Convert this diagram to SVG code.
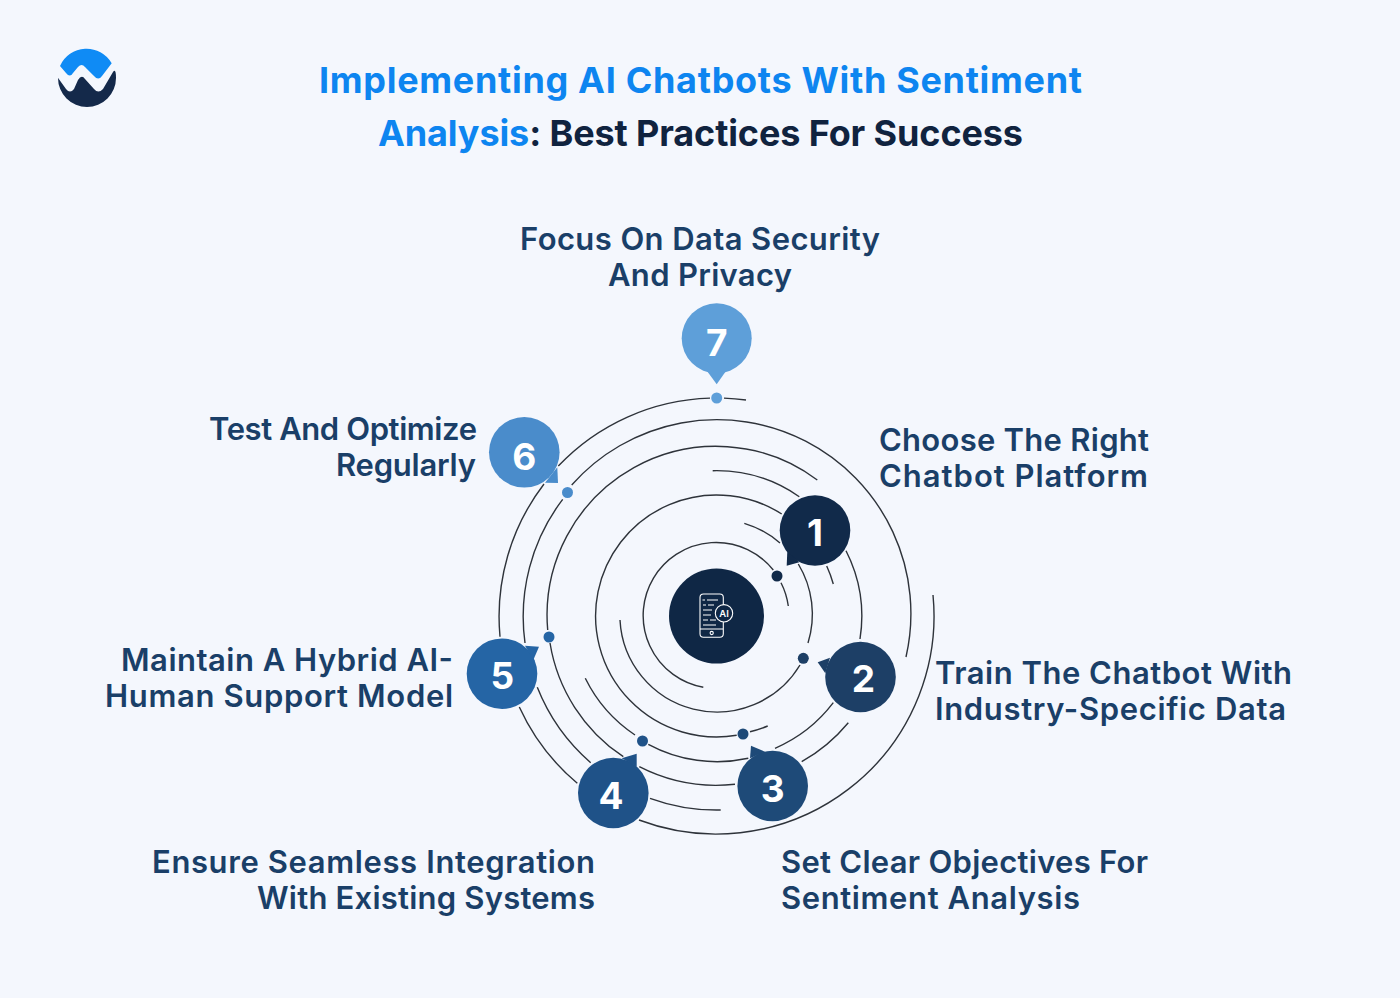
<svg xmlns="http://www.w3.org/2000/svg" width="1400" height="998" viewBox="0 0 1400 998">
<style>
text{font-family:Inter,"Liberation Sans",sans-serif}
.t{font-size:36px;font-weight:700}
.bl{fill:#0d85f0}
.dk{fill:#10233f}
.l{font-size:31px;font-weight:600;fill:#1a3f68}
.n{font-size:37px;font-weight:700;fill:#fff;text-anchor:middle}
.r{fill:none;stroke:#2e333a;stroke-width:1.4;stroke-linecap:butt}
.ic{fill:none;stroke:#fff;stroke-width:1.1}
</style>
<rect width="1400" height="998" fill="#f4f7fd"/>
<g id="logo">
<path d="M60 66A29 29 0 0 1 111.700 63.300L102 76Q98.300 81 94 76L85 67Q81.700 63 78 67L73 73Q70 78 66 73Z" fill="#0f8bf5"/>
<path d="M58.300 78.300L66 89Q70 94 74 89L78 80Q81.700 74 85 79L94 89Q98.300 94 103 89L113 72Q116 68 116 78A29 29 0 0 1 58 78Z" fill="#14294a"/>
</g>
<g id="title">
<text class="t bl" x="319" y="93" textLength="763">Implementing AI Chatbots With Sentiment</text>
<text class="t" x="378" y="146" textLength="645"><tspan class="bl">Analysis</tspan><tspan class="dk">: Best Practices For Success</tspan></text>
</g>
<g id="connectors">
<path class="r" d="M558.300 466A218 218 0 0 1 710 398.100"/>
<path class="r" d="M724 398.100A218 218 0 0 1 746 400"/>
<path class="r" d="M500 636.700A218 218 0 0 1 544 484"/>
<path class="r" d="M577.300 783.300A218 218 0 0 1 519.300 707"/>
<path class="r" d="M933 595A218 218 0 0 1 639 820"/>
<path class="r" d="M571.700 485A194 194 0 0 1 906 657"/>
<path class="r" d="M525 643A194 194 0 0 1 562.700 499.300"/>
<path class="r" d="M590.700 762.700A194 194 0 0 1 537.300 687.300"/>
<path class="r" d="M720.700 810A194 194 0 0 1 650 798.300"/>
<path class="r" d="M547.700 630A169 169 0 0 1 817.300 480"/>
<path class="r" d="M623.300 756.700A169 169 0 0 1 550 643"/>
<path class="r" d="M735 784.300A169 169 0 0 1 639.300 766.700"/>
<path class="r" d="M848.300 722.700A169 169 0 0 1 801.700 761.700"/>
<path class="r" d="M712.700 470.700A145 145 0 0 1 799.300 496.700"/>
<path class="r" d="M846 550.700A145 145 0 0 1 860 639"/>
<path class="r" d="M833.300 702.700A145 145 0 0 1 775 748.300"/>
<path class="r" d="M748.300 758.300A145 145 0 0 1 648.300 744.300"/>
<path class="r" d="M635 735A145 145 0 0 1 585.300 678.300"/>
<path class="r" d="M736.700 735.300A121 121 0 1 1 781.700 514"/>
<path class="r" d="M767.700 726A121 121 0 0 1 750 731.700"/>
<path class="r" d="M826.700 566A121 121 0 0 1 833.300 584"/>
<path class="r" d="M744.300 523.300A97 97 0 0 1 780 543"/>
<path class="r" d="M798.300 564A97 97 0 0 1 808 643"/>
<path class="r" d="M800 665A97 97 0 0 1 620 620"/>
<path class="r" d="M703.300 687.300A73 73 0 1 1 773.300 570"/>
<path class="r" d="M781 582.700A73 73 0 0 1 788.300 606"/>
</g>
<g id="center">
<circle cx="716.500" cy="616" r="47.500" fill="#0f2745"/>
<rect class="ic" x="700" y="594" width="23.300" height="43.300" rx="3.500"/>
<path class="ic" d="M700 629H723M702.500 600H705M707 600H718M703 605H706M708 605H714M703 610H712M703 615H711M703 620H708M710 620H716M703 625H716"/>
<circle class="ic" cx="711.700" cy="633" r="1.600"/>
<circle cx="724" cy="613.300" r="8.700" fill="#0f2745" stroke="#fff" stroke-width="1.100"/>
<text x="724" y="616.800" font-size="9.500" font-weight="600" fill="#fff" text-anchor="middle">AI</text>
</g>
<g id="node1" fill="#112a4a">
<circle cx="815" cy="530.500" r="35.300"/>
<path d="M786.700 565.700L787.300 551.700L799.300 562.300Z"/>
<circle cx="777" cy="576" r="5.500"/>
<text class="n" x="815" y="546">1</text>
<text class="l" x="879" y="451" textLength="270">Choose The Right</text>
<text class="l" x="879" y="487" textLength="269">Chatbot Platform</text>
</g>
<g id="node2" fill="#1d3f66">
<circle cx="860.500" cy="677" r="35.300"/>
<path d="M817.700 662.300L830 657.700L825.300 673.300Z"/>
<circle cx="803.300" cy="658.300" r="5.500"/>
<text class="n" x="863.300" y="692.300">2</text>
<text class="l" x="935" y="684" textLength="357">Train The Chatbot With</text>
<text class="l" x="935" y="720" textLength="351">Industry-Specific Data</text>
</g>
<g id="node3" fill="#1e4a78">
<circle cx="772.700" cy="786" r="35.300"/>
<path d="M751 745.700L750 758.300L765 751.700Z"/>
<circle cx="743" cy="734" r="5.500"/>
<text class="n" x="772.700" y="801.700">3</text>
<text class="l" x="781" y="873" textLength="367">Set Clear Objectives For</text>
<text class="l" x="781" y="909" textLength="299">Sentiment Analysis</text>
</g>
<g id="node4" fill="#1f5288">
<circle cx="613.300" cy="793" r="35.300"/>
<path d="M636.700 753.700L621.700 758.300L636.700 766.700Z"/>
<circle cx="642.500" cy="741" r="5.500"/>
<text class="n" x="611" y="809">4</text>
<text class="l" x="152" y="873" textLength="443">Ensure Seamless Integration</text>
<text class="l" x="257" y="909" textLength="338">With Existing Systems</text>
</g>
<g id="node5" fill="#2565a5">
<circle cx="502" cy="673.700" r="35.300"/>
<path d="M539 646.700L525 645.700L533.300 660Z"/>
<circle cx="549" cy="637" r="5.500"/>
<text class="n" x="502.300" y="689">5</text>
<text class="l" x="121" y="671" textLength="332">Maintain A Hybrid AI-</text>
<text class="l" x="105" y="707" textLength="348">Human Support Model</text>
</g>
<g id="node6" fill="#4a8ccb">
<circle cx="524.300" cy="452.300" r="35.300"/>
<path d="M558 483L557.300 467.300L545 482.700Z"/>
<circle cx="567.500" cy="492.500" r="5.500"/>
<text class="n" x="524.300" y="470">6</text>
<text class="l" x="209" y="440" textLength="268">Test And Optimize</text>
<text class="l" x="336" y="476" textLength="140">Regularly</text>
</g>
<g id="node7" fill="#5e9fd9">
<circle cx="716.700" cy="338.300" r="35"/>
<path d="M716.700 384.300L707 371L726 371Z"/>
<circle cx="716.700" cy="398" r="5.500"/>
<text class="n" x="716.700" y="356">7</text>
<text class="l" x="520" y="250" textLength="360">Focus On Data Security</text>
<text class="l" x="608" y="286" textLength="184">And Privacy</text>
</g>
</svg>
